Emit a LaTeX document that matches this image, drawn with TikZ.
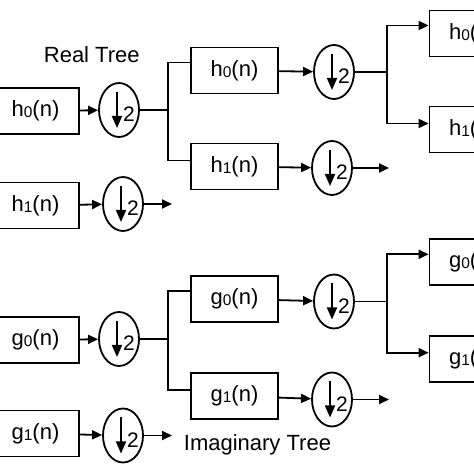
\documentclass[tikz,border=0pt]{standalone}
\usepackage{fontspec}
\setmainfont{Liberation Sans}
\usetikzlibrary{shapes.geometric,arrows.meta}
\newcommand{\subn}[1]{{\fontsize{15.5}{15}\selectfont\raisebox{-1pt}{#1}}}
\begin{document}
\begin{tikzpicture}[x=1pt, y=1pt, line width=1.8pt,
    filt/.style = {draw, rectangle, minimum width=87pt, minimum height=46pt, inner sep=0pt, font=\fontsize{22}{24}\selectfont},
    down/.style = {draw, ellipse, minimum width=40pt, minimum height=54pt, inner sep=0pt,
        text height=24pt, text depth=0pt, font=\fontsize{21}{24}\selectfont,
        path picture={\draw[-{Triangle[length=12pt,width=10pt]}]
            ([xshift=-2pt,yshift=-9pt]path picture bounding box.north) --
            ([xshift=-2pt,yshift=9pt]path picture bounding box.south);}},
    arr/.style = {-{Triangle[length=10pt,width=9pt]}},
    lbl/.style = {anchor=base west, inner sep=0pt, font=\fontsize{22}{24}\selectfont}]
    \clip (0,0) rectangle (474,474);
    \useasboundingbox (0,0) rectangle (474,474);
    % real tree
    \node[lbl] (real) at (43,411) {Real Tree};
    \node[filt] (a0) at (35.5,363) {h\subn{0}(n)};
    \node[down] (d0) at (119,364) {\makebox[0pt]{\hspace{20pt}2}};
    \node[filt] (a1) at (35.5,268.5) {h\subn{1}(n)};
    \node[down] (d1) at (123,270) {\makebox[0pt]{\hspace{20pt}2}};
    \node[filt] (b0) at (234.5,403.5) {h\subn{0}(n)};
    \node[filt] (b1) at (234.5,307.5) {h\subn{1}(n)};
    \node[down] (e0) at (334,402) {\makebox[0pt]{\hspace{20pt}2}};
    \node[down] (e1) at (332,306) {\makebox[0pt]{\hspace{20pt}2}};
    \node[filt] (c0) at (473,440.5) {h\subn{0}(n)};
    \node[filt] (c1) at (473,344.5) {h\subn{1}(n)};
    \coordinate (j0) at (168,364);
    \coordinate (k0) at (387,402);
    \coordinate (o0) at (172,270);
    \coordinate (p0) at (389,306);
    \draw[arr] (a0) -- (d0);
    \draw (d0) -- (j0) |- ([yshift=8pt]b0.west);
    \draw (j0) |- ([yshift=6pt]b1.west);
    \draw[arr] (b0) -- (e0);
    \draw[arr] (b1) -- (e1);
    \draw[arr] (e0) -- (k0) |- ([yshift=8pt]c0.west);
    \draw[arr] (k0) |- ([yshift=6pt]c1.west);
    \draw[arr] (e1) -- (p0);
    \draw[arr] (a1) -- (d1);
    \draw[arr] (d1) -- (o0);
    % imaginary tree
    \node[filt] (g0) at (35.5,134) {g\subn{0}(n)};
    \node[down] (f0) at (119,135) {\makebox[0pt]{\hspace{20pt}2}};
    \node[filt] (g1) at (35.5,40.5) {g\subn{1}(n)};
    \node[down] (f1) at (123,38.5) {\makebox[0pt]{\hspace{20pt}2}};
    \node[filt] (m0) at (234.5,175) {g\subn{0}(n)};
    \node[filt] (m1) at (234.5,78) {g\subn{1}(n)};
    \node[down] (n0) at (334,172.5) {\makebox[0pt]{\hspace{20pt}2}};
    \node[down] (n1) at (332,74.5) {\makebox[0pt]{\hspace{20pt}2}};
    \node[filt] (r0) at (473,211.7) {g\subn{0}(n)};
    \node[filt] (r1) at (473,115.3) {g\subn{1}(n)};
    \node[lbl] (imag) at (183,23.3) {Imaginary Tree};
    \coordinate (j1) at (168,135);
    \coordinate (k1) at (387,172.5);
    \coordinate (o1) at (172,38.5);
    \coordinate (p1) at (389,74.5);
    \draw[arr] (g0) -- (f0);
    \draw (f0) -- (j1) |- ([yshift=8pt]m0.west);
    \draw (j1) |- ([yshift=6pt]m1.west);
    \draw[arr] (m0) -- (n0);
    \draw[arr] (m1) -- (n1);
    \draw[arr] (n0) -- (k1) |- ([yshift=8pt]r0.west);
    \draw[arr] (k1) |- ([yshift=6pt]r1.west);
    \draw[arr] (n1) -- (p1);
    \draw[arr] (g1) -- (f1);
    \draw[arr] (f1) -- (o1);
\end{tikzpicture}
\end{document}
